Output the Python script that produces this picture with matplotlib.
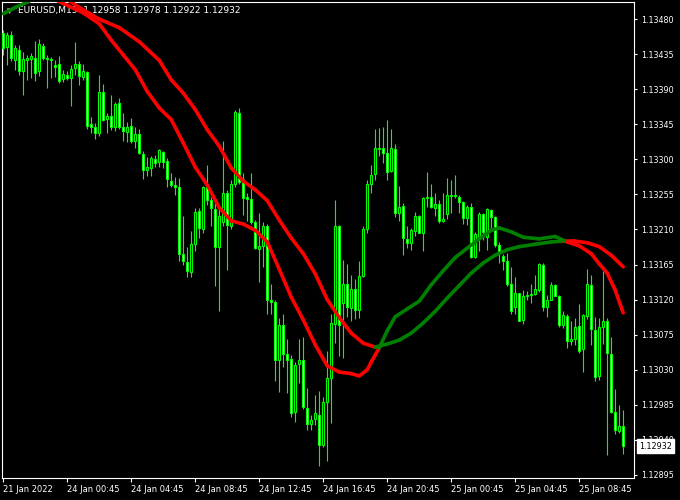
import numpy as np
import matplotlib
matplotlib.use("Agg")
import matplotlib.pyplot as plt
import matplotlib.transforms as mtransforms
from matplotlib.collections import LineCollection

# EURUSD M15 candles
opens = [1.13462, 1.13444, 1.13460, 1.13428, 1.13441, 1.13414, 1.13427, 1.13429, 1.13430, 1.13414,
         1.13446, 1.13430, 1.13429, 1.13421, 1.13423, 1.13403, 1.13408, 1.13405, 1.13417, 1.13422,
         1.13406, 1.13412, 1.13345, 1.13342, 1.13334, 1.13387, 1.13352, 1.13356, 1.13342, 1.13372,
         1.13341, 1.13335, 1.13343, 1.13324, 1.13333, 1.13307, 1.13286, 1.13289, 1.13301, 1.13296,
         1.13310, 1.13298, 1.13272, 1.13267, 1.13265, 1.13179, 1.13168, 1.13156, 1.13192, 1.13234,
         1.13211, 1.13265, 1.13248, 1.13236, 1.13188, 1.13220, 1.13257, 1.13215, 1.13269, 1.13360,
         1.13275, 1.13252, 1.13249, 1.13220, 1.13185, 1.13189, 1.13214, 1.13120, 1.13117, 1.13042,
         1.13088, 1.13050, 1.13044, 1.12976, 1.13037, 1.13043, 1.12981, 1.12960, 1.12967, 1.12972,
         1.12934, 1.12988, 1.13020, 1.13089, 1.13214, 1.13115, 1.13140, 1.13109, 1.13134, 1.13107,
         1.13150, 1.13211, 1.13268, 1.13281, 1.13314, 1.13314, 1.13308, 1.13285, 1.13313, 1.13231,
         1.13240, 1.13198, 1.13193, 1.13208, 1.13227, 1.13206, 1.13251, 1.13252, 1.13238, 1.13243,
         1.13221, 1.13230, 1.13254, 1.13253, 1.13252, 1.13245, 1.13225, 1.13239, 1.13175, 1.13198,
         1.13230, 1.13200, 1.13235, 1.13226, 1.13190, 1.13176, 1.13170, 1.13140, 1.13110, 1.13128,
         1.13094, 1.13125, 1.13126, 1.13127, 1.13132, 1.13165, 1.13110, 1.13120, 1.13139, 1.13125,
         1.13087, 1.13099, 1.13067, 1.13069, 1.13086, 1.13056, 1.13099, 1.13139, 1.13081, 1.13022,
         1.13085, 1.13093, 1.13050, 1.12976, 1.12951, 1.12958]
highs = [1.13466, 1.13463, 1.13465, 1.13447, 1.13447, 1.13438, 1.13434, 1.13436, 1.13452, 1.13455,
         1.13450, 1.13434, 1.13432, 1.13428, 1.13433, 1.13415, 1.13413, 1.13421, 1.13451, 1.13426,
         1.13422, 1.13413, 1.13354, 1.13347, 1.13408, 1.13397, 1.13359, 1.13382, 1.13374, 1.13379,
         1.13359, 1.13348, 1.13353, 1.13341, 1.13339, 1.13311, 1.13303, 1.13304, 1.13306, 1.13313,
         1.13311, 1.13302, 1.13283, 1.13277, 1.13276, 1.13227, 1.13187, 1.13208, 1.13237, 1.13238,
         1.13266, 1.13293, 1.13252, 1.13244, 1.13239, 1.13323, 1.13261, 1.13274, 1.13363, 1.13366,
         1.13282, 1.13257, 1.13282, 1.13222, 1.13231, 1.13220, 1.13217, 1.13140, 1.13120, 1.13096,
         1.13102, 1.13070, 1.13049, 1.13040, 1.13070, 1.13072, 1.13006, 1.12972, 1.12998, 1.13003,
         1.12995, 1.13054, 1.13102, 1.13248, 1.13216, 1.13171, 1.13166, 1.13152, 1.13147, 1.13170,
         1.13214, 1.13273, 1.13293, 1.13339, 1.13340, 1.13341, 1.13351, 1.13339, 1.13320, 1.13266,
         1.13244, 1.13214, 1.13212, 1.13232, 1.13228, 1.13252, 1.13284, 1.13269, 1.13257, 1.13248,
         1.13257, 1.13276, 1.13274, 1.13280, 1.13254, 1.13246, 1.13242, 1.13244, 1.13207, 1.13233,
         1.13231, 1.13237, 1.13236, 1.13227, 1.13194, 1.13178, 1.13180, 1.13162, 1.13149, 1.13129,
         1.13132, 1.13131, 1.13140, 1.13152, 1.13167, 1.13167, 1.13126, 1.13143, 1.13140, 1.13126,
         1.13105, 1.13102, 1.13093, 1.13096, 1.13114, 1.13102, 1.13159, 1.13152, 1.13098, 1.13096,
         1.13157, 1.13097, 1.13072, 1.13005, 1.12985, 1.12978]
lows = [1.13434, 1.13421, 1.13426, 1.13415, 1.13408, 1.13383, 1.13402, 1.13404, 1.13400, 1.13407,
        1.13428, 1.13391, 1.13404, 1.13406, 1.13398, 1.13399, 1.13402, 1.13368, 1.13408, 1.13396,
        1.13402, 1.13339, 1.13334, 1.13326, 1.13330, 1.13349, 1.13334, 1.13338, 1.13336, 1.13339,
        1.13324, 1.13322, 1.13321, 1.13314, 1.13307, 1.13275, 1.13279, 1.13279, 1.13290, 1.13290,
        1.13289, 1.13265, 1.13264, 1.13254, 1.13170, 1.13164, 1.13149, 1.13149, 1.13183, 1.13199,
        1.13205, 1.13242, 1.13214, 1.13138, 1.13106, 1.13215, 1.13158, 1.13210, 1.13264, 1.13269,
        1.13229, 1.13221, 1.13217, 1.13185, 1.13142, 1.13162, 1.13102, 1.13102, 1.13015, 1.13001,
        1.13033, 1.13000, 1.12969, 1.12963, 1.13013, 1.12980, 1.12953, 1.12953, 1.12959, 1.12906,
        1.12931, 1.12913, 1.12962, 1.13064, 1.13047, 1.13045, 1.13098, 1.13093, 1.13095, 1.13096,
        1.13149, 1.13205, 1.13257, 1.13274, 1.13304, 1.13295, 1.13274, 1.13284, 1.13226, 1.13221,
        1.13177, 1.13186, 1.13184, 1.13202, 1.13205, 1.13183, 1.13239, 1.13237, 1.13227, 1.13218,
        1.13220, 1.13224, 1.13231, 1.13250, 1.13231, 1.13217, 1.13216, 1.13173, 1.13174, 1.13182,
        1.13197, 1.13184, 1.13212, 1.13188, 1.13167, 1.13158, 1.13138, 1.13102, 1.13102, 1.13092,
        1.13089, 1.13119, 1.13115, 1.13126, 1.13130, 1.13106, 1.13098, 1.13119, 1.13124, 1.13085,
        1.13084, 1.13058, 1.13062, 1.13062, 1.13052, 1.13027, 1.13095, 1.13062, 1.13016, 1.13017,
        1.13063, 1.12921, 1.12975, 1.12947, 1.12949, 1.12922]
closes = [1.13443, 1.13459, 1.13430, 1.13443, 1.13414, 1.13429, 1.13430, 1.13433, 1.13411, 1.13448,
          1.13430, 1.13429, 1.13428, 1.13418, 1.13400, 1.13409, 1.13405, 1.13416, 1.13423, 1.13407,
          1.13413, 1.13343, 1.13341, 1.13334, 1.13386, 1.13351, 1.13356, 1.13342, 1.13371, 1.13341,
          1.13336, 1.13341, 1.13323, 1.13333, 1.13308, 1.13286, 1.13290, 1.13302, 1.13295, 1.13312,
          1.13297, 1.13275, 1.13267, 1.13264, 1.13178, 1.13170, 1.13157, 1.13192, 1.13233, 1.13212,
          1.13264, 1.13248, 1.13237, 1.13188, 1.13227, 1.13257, 1.13216, 1.13269, 1.13361, 1.13271,
          1.13251, 1.13249, 1.13220, 1.13186, 1.13189, 1.13215, 1.13120, 1.13117, 1.13042, 1.13088,
          1.13050, 1.13043, 1.12975, 1.13036, 1.13042, 1.12982, 1.12960, 1.12966, 1.12974, 1.12933,
          1.12989, 1.13019, 1.13090, 1.13215, 1.13087, 1.13140, 1.13110, 1.13133, 1.13107, 1.13150,
          1.13211, 1.13268, 1.13280, 1.13314, 1.13313, 1.13308, 1.13284, 1.13314, 1.13231, 1.13239,
          1.13199, 1.13193, 1.13209, 1.13227, 1.13206, 1.13250, 1.13252, 1.13239, 1.13243, 1.13221,
          1.13224, 1.13254, 1.13253, 1.13254, 1.13245, 1.13225, 1.13239, 1.13175, 1.13204, 1.13230,
          1.13207, 1.13236, 1.13226, 1.13190, 1.13180, 1.13169, 1.13140, 1.13105, 1.13128, 1.13093,
          1.13125, 1.13126, 1.13127, 1.13133, 1.13166, 1.13110, 1.13120, 1.13139, 1.13125, 1.13087,
          1.13100, 1.13067, 1.13070, 1.13085, 1.13054, 1.13100, 1.13140, 1.13082, 1.13021, 1.13085,
          1.13092, 1.13051, 1.12976, 1.12952, 1.12958, 1.12932]

# two smoothed averages, sampled at these bar numbers
fast_bar = [0, 5, 9, 13, 20, 24, 27, 30, 33, 36, 39, 42, 45, 48, 51, 54, 57, 60, 63, 66,
            69, 72, 75, 78, 81, 84, 87, 89, 91, 92, 94, 96, 98, 101, 104, 107, 110, 113, 116,
            119, 122, 124, 127, 130, 134, 138, 141, 144, 147, 149, 151, 153, 155]
fast_ma = [1.13537, 1.13537, 1.13524, 1.13505, 1.13488, 1.13474, 1.13453, 1.13434, 1.13415,
           1.13387, 1.13366, 1.13351, 1.13321, 1.13290, 1.13267, 1.13238, 1.13221, 1.13217,
           1.13209, 1.13194, 1.13159, 1.13123, 1.13094, 1.13062, 1.13035, 1.13027, 1.13025,
           1.13022, 1.13030, 1.13040, 1.13058, 1.13080, 1.13098, 1.13108, 1.13118, 1.13139,
           1.13157, 1.13174, 1.13186, 1.13198, 1.13209, 1.13212, 1.13207, 1.13200, 1.13198,
           1.13201, 1.13194, 1.13189, 1.13179, 1.13166, 1.13154, 1.13132, 1.13103]
slow_bar = [0, 3, 6, 10, 14, 17, 19, 24, 29, 34, 39, 42, 45, 48, 51, 54, 57, 60, 63, 66,
            69, 72, 75, 78, 81, 84, 87, 90, 93, 96, 99, 102, 105, 108, 111, 114, 117, 120,
            123, 126, 129, 133, 137, 140, 143, 146, 149, 152, 155]
slow_ma = [1.13487, 1.13495, 1.13502, 1.13512, 1.13511, 1.13502, 1.13495, 1.13480, 1.13469,
           1.13451, 1.13427, 1.13402, 1.13385, 1.13364, 1.13338, 1.13317, 1.13289, 1.13272,
           1.13261, 1.13247, 1.13222, 1.13199, 1.13179, 1.13153, 1.13120, 1.13097, 1.13077,
           1.13064, 1.13059, 1.13063, 1.13068, 1.13077, 1.13090, 1.13105, 1.13122, 1.13138,
           1.13154, 1.13167, 1.13177, 1.13184, 1.13188, 1.13191, 1.13194, 1.13195, 1.13195,
           1.13193, 1.13188, 1.13177, 1.13162]

time_bars = [0, 16, 32, 48, 64, 80, 96, 112, 128, 144]
time_labels = ["21 Jan 2022", "24 Jan 00:45", "24 Jan 04:45", "24 Jan 08:45", "24 Jan 12:45",
               "24 Jan 16:45", "24 Jan 20:45", "25 Jan 00:45", "25 Jan 04:45", "25 Jan 08:45"]
price_ticks = [1.13480, 1.13435, 1.13390, 1.13345, 1.13300, 1.13255, 1.13210, 1.13165,
               1.13120, 1.13075, 1.13030, 1.12985, 1.12940, 1.12895]

LIME = "#00ff00"
fig = plt.figure(figsize=(6.8, 5), dpi=100, facecolor="black")
ax = fig.add_axes([2 / 680, 22 / 500, 632 / 680, 476 / 500])
ax.set_facecolor("black")

x = np.arange(len(closes))
o = np.array(opens)
c = np.array(closes)
ax.vlines(x, lows, highs, color=LIME, lw=0.8, zorder=2)
bear = c < o
body_lo = np.minimum(o, c)
body_h = np.maximum(np.abs(c - o), 0.000006)
ax.bar(x, body_h, bottom=body_lo, width=0.5,
       color=np.where(bear, "white", "black"), edgecolor=LIME, lw=0.8, zorder=3)


def ma_line(bars, vals, other_bars, other_vals, fast_first):
    bars = np.array(bars, float)
    vals = np.array(vals)
    pts = np.column_stack([bars, vals])
    segs = np.stack([pts[:-1], pts[1:]], axis=1)
    mid = (bars[:-1] + bars[1:]) / 2
    me = (vals[:-1] + vals[1:]) / 2
    ot = np.interp(mid, other_bars, other_vals)
    up = me >= ot if fast_first else ot >= me
    cols = np.where(up, "#008000", "#ff0000")
    lc = LineCollection(segs, colors=cols, linewidths=2.6, capstyle="round",
                        joinstyle="round", zorder=5)
    ax.add_collection(lc)


ma_line(slow_bar, slow_ma, fast_bar, fast_ma, False)
ma_line(fast_bar, fast_ma, slow_bar, slow_ma, True)

ax.set_xlim(-0.33, 157.7)
ax.set_ylim(1.12891, 1.13502)

for s in ax.spines.values():
    s.set_color("white")
    s.set_linewidth(0.8)

ax.yaxis.tick_right()
ax.set_yticks(price_ticks)
ax.set_yticklabels(["%.5f" % p for p in price_ticks])
ax.set_xticks(time_bars)
ax.set_xticklabels(time_labels, ha="left")
ax.tick_params(axis="y", colors="white", labelsize=5.8, length=2.5, pad=3, width=0.8)
ax.tick_params(axis="x", colors="white", labelsize=6, length=3, pad=2, width=0.8)
for lab in ax.get_xticklabels():
    lab.set_x(0)

# header and current price box
ax.text(18 / 680, 1 - 11 / 500, "EURUSD,M15  1.12958 1.12978 1.12922 1.12932",
        transform=fig.transFigure, color="white", fontsize=6.5, va="center", zorder=4)
ax.text(7 / 680, 1 - 11 / 500, "\u25bc", transform=fig.transFigure, color="white",
        fontsize=5, va="center", zorder=4)
trans = mtransforms.blended_transform_factory(fig.transFigure, ax.transData)
fig.text(639 / 680, closes[-1], "%.5f" % closes[-1], transform=trans, color="black",
         fontsize=5.8, va="center", ha="left",
         bbox=dict(boxstyle="square,pad=0.3", fc="white", ec="white"))

fig.savefig("out.png", dpi=100, facecolor="black")
